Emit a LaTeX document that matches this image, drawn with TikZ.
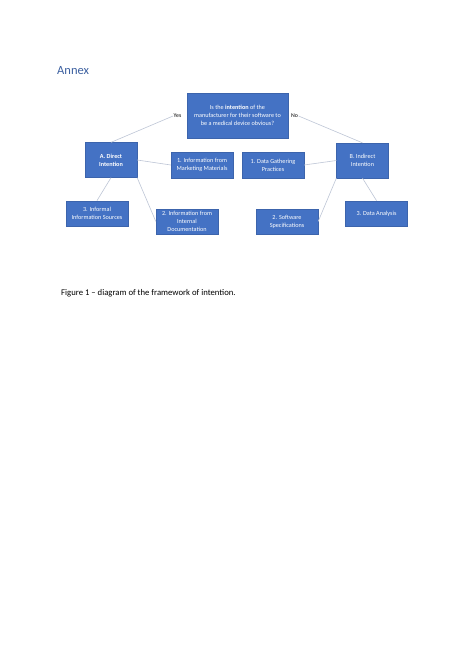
\documentclass[tikz,border=0pt]{standalone}
\usepackage{fontspec}
\setmainfont{Carlito}
\definecolor{boxfill}{RGB}{68,114,196}
\definecolor{boxline}{RGB}{60,100,172}
\definecolor{conn}{RGB}{190,198,214}
\definecolor{heading}{RGB}{60,96,160}
\tikzset{
  box/.style={draw=boxline, line width=0.3pt, fill=boxfill, text=white, align=center,
    inner sep=1pt, font=\fontsize{6.2}{8.2}\selectfont},
  bigbox/.style={box, minimum width=101pt, minimum height=45pt},
  keybox/.style={box, minimum width=52pt, minimum height=35pt},
  leafbox/.style={box, minimum width=62pt, minimum height=25.5pt},
  conline/.style={draw=conn, line width=0.6pt},
  lbl/.style={inner sep=0.5pt, font=\fontsize{5.8}{7}\selectfont}
}
\begin{document}
\begin{tikzpicture}[x=1pt,y=-1pt]
\useasboundingbox (0,0) rectangle (474,670);
\fill[white] (0,0) rectangle (474,670);

\node[anchor=base west, inner sep=0, text=heading, font=\fontsize{12.5}{14}\selectfont] (annex) at (57,74) {Annex};

\node[bigbox] (q) at (237.5,115.5) {Is the \textbf{intention} of the\\manufacturer for their software to\\be a medical device obvious?};
\node[lbl] (yes) at (177.5,116) {Yes};
\node[lbl] (no) at (294.5,116) {No};

\node[keybox] (a) at (111,160) {\textbf{A. Direct}\\\textbf{Intention}};
\node[keybox] (b) at (362.5,160.5) {B. Indirect\\Intention};

\node[leafbox] (mm) at (202,165) {1. Information from\\Marketing Materials};
\node[leafbox] (dg) at (273,165) {1. Data Gathering\\Practices};
\node[leafbox] (inf) at (97,213.5) {3. Informal\\Information Sources};
\node[leafbox] (int) at (187,221.5) {2. Information from\\Internal\\Documentation};
\node[leafbox] (sw) at (287,221.5) {2. Software\\Specifications};
\node[leafbox] (da) at (376.5,213.5) {3. Data Analysis};

\draw[conline] (yes.west) -- (a.north);
\draw[conline] (no.east) -- (b.north);
\draw[conline] (a.east) -- (mm.west);
\draw[conline] (dg.east) -- (b.west);
\draw[conline] (a.south) -- (inf.north);
\draw[conline] (a.south east) -- (int.west);
\draw[conline] (b.south west) -- (sw.east);
\draw[conline] (b.south) -- (da.north);

\node[anchor=base west, inner sep=0, font=\fontsize{8.7}{10}\selectfont] (cap) at (61,295) {Figure 1 – diagram of the framework of intention.};
\end{tikzpicture}
\end{document}
